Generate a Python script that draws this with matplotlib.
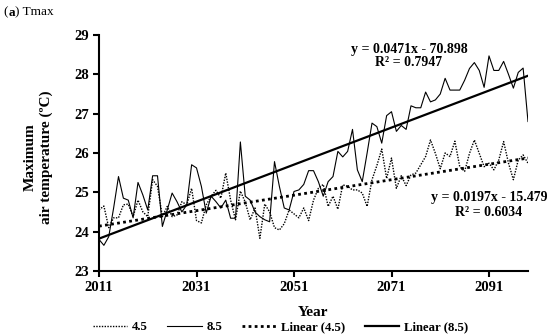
import numpy as np
import matplotlib.pyplot as plt
from matplotlib.lines import Line2D

plt.rcParams["font.family"] = ["Liberation Serif", "DejaVu Serif"]

years = list(range(2011, 2100))

tmax_45 = [
    24.55, 24.65, 24.10, 24.35, 24.35, 24.68, 24.70, 24.38, 24.80, 24.50,
    24.38, 25.32, 25.15, 24.38, 24.64, 24.38, 24.42, 24.76, 24.68, 25.10,
    24.28, 24.22, 24.68, 24.90, 25.05, 24.85, 25.49, 24.80, 24.30, 25.03,
    24.75, 24.30, 24.60, 23.83, 24.70, 24.50, 24.10, 24.04, 24.20, 24.55,
    24.45, 24.35, 24.60, 24.28, 24.80, 25.10, 25.20, 24.64, 24.90, 24.57,
    25.19, 25.15, 25.06, 25.06, 24.98, 24.64, 25.32, 25.68, 26.10, 25.35,
    25.87, 25.10, 25.42, 25.17, 25.44, 25.49, 25.70, 25.91, 26.33, 25.99,
    25.60, 26.00, 25.91, 26.30, 25.65, 25.53, 25.99, 26.33, 25.99, 25.65,
    25.74, 25.57, 25.82, 26.29, 25.74, 25.32, 25.82, 25.95, 25.74,
]

tmax_85 = [
    23.80, 23.65, 23.87, 24.60, 25.40, 24.85, 24.80, 24.35, 25.25, 24.93,
    24.55, 25.42, 25.42, 24.13, 24.55, 24.98, 24.76, 24.50, 24.68, 25.70,
    25.62, 25.15, 24.47, 24.90, 24.76, 24.60, 24.80, 24.34, 24.34, 26.28,
    24.90, 24.80, 24.50, 24.38, 24.30, 24.25, 25.78, 25.15, 24.60, 24.55,
    25.02, 25.06, 25.20, 25.55, 25.55, 25.27, 24.90, 25.27, 25.40, 26.04,
    25.90, 26.04, 26.60, 25.57, 25.27, 26.00, 26.76, 26.67, 26.25, 26.95,
    27.05, 26.55, 26.70, 26.60, 27.20, 27.15, 27.15, 27.55, 27.30, 27.35,
    27.50, 27.90, 27.60, 27.60, 27.60, 27.85, 28.15, 28.30, 28.10, 27.67,
    28.47, 28.10, 28.10, 28.33, 28.00, 27.65, 28.05, 28.16, 26.80,
]

# trendline coefficients as printed on the chart
fit_45 = (0.0197, -15.479, 0.6034)
fit_85 = (0.0471, -70.898, 0.7947)

x_ticks = [2011, 2031, 2051, 2071, 2091]
y_ticks = [23, 24, 25, 26, 27, 28, 29]

fig = plt.figure(figsize=(5.5, 3.34), dpi=100)
ax = fig.add_axes([0.18, 0.189, 0.78, 0.706])

yr = np.array(years)
ax.plot(yr, tmax_45, color="black", linewidth=1.0, linestyle=(0, (1, 1)))
ax.plot(yr, tmax_85, color="black", linewidth=0.8)
ax.plot(yr, fit_45[0] * yr + fit_45[1], color="black", linewidth=2.0,
        linestyle=(0, (1, 1.2)))
ax.plot(yr, fit_85[0] * yr + fit_85[1], color="black", linewidth=1.6)

ax.set_xlim(2011, 2099)
ax.set_ylim(23, 29)
ax.set_xticks(x_ticks)
ax.set_yticks(y_ticks)
for s in ["top", "right"]:
    ax.spines[s].set_visible(False)
for s in ["left", "bottom"]:
    ax.spines[s].set_linewidth(1.5)
ax.tick_params(direction="out", length=4, width=1.5, labelsize=10.5, pad=3)
for lab in ax.get_xticklabels() + ax.get_yticklabels():
    lab.set_fontweight("bold")

ax.set_xlabel("Year", fontsize=11, fontweight="bold", labelpad=9)
fig.text(0.055, 0.53, "Maximum", rotation=90, fontsize=11, fontweight="bold",
         ha="center", va="center")
fig.text(0.084, 0.53, "air temperature (ºC)", rotation=90, fontsize=11,
         fontweight="bold", ha="center", va="center")

fig.text(0.006, 0.962, "(", fontsize=9.5, va="center")
fig.text(0.016, 0.962, "a", fontsize=9.5, fontweight="bold", va="center")
fig.text(0.028, 0.962, ") Tmax", fontsize=9.5, va="center")

fig.text(409 / 550, 1 - 49 / 334, f"y = {fit_85[0]}x - {abs(fit_85[1])}",
         fontsize=10, fontweight="bold", ha="center", va="center")
fig.text(409 / 550, 1 - 63 / 334, f"R² = {fit_85[2]}",
         fontsize=10, fontweight="bold", ha="center", va="center")
fig.text(489 / 550, 1 - 198 / 334, f"y = {fit_45[0]}x - {abs(fit_45[1])}",
         fontsize=10, fontweight="bold", ha="center", va="center")
fig.text(489 / 550, 1 - 212 / 334, f"R² = {fit_45[2]}",
         fontsize=10, fontweight="bold", ha="center", va="center")

handles = [
    Line2D([], [], color="black", linewidth=1.0, linestyle=(0, (1, 1))),
    Line2D([], [], color="black", linewidth=0.8),
    Line2D([], [], color="black", linewidth=2.0, linestyle=(0, (1, 1.2))),
    Line2D([], [], color="black", linewidth=1.6),
]
labels = ["4.5", "8.5", "Linear (4.5)", "Linear (8.5)"]
leg = fig.legend(handles, labels, loc="center", bbox_to_anchor=(0.51, 0.02),
                 ncol=4, frameon=False, fontsize=9.2, handlelength=2.7,
                 handletextpad=0.4, columnspacing=1.5)
for t in leg.get_texts():
    t.set_fontweight("bold")

fig.savefig("out.png", dpi=100)
